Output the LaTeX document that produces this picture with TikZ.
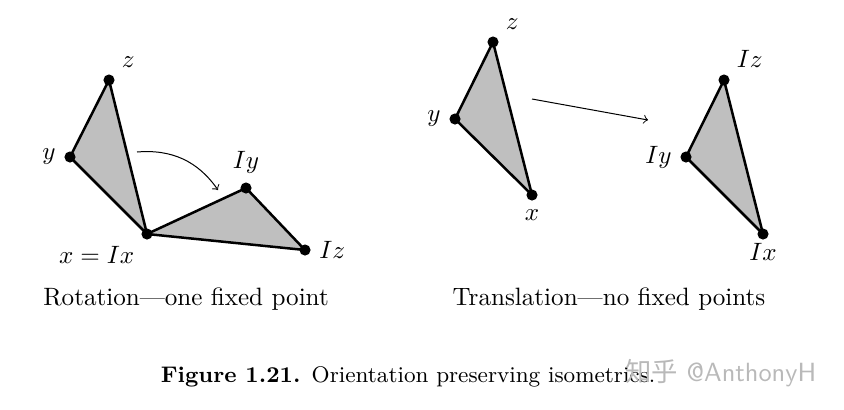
\documentclass[tikz,border=0pt]{standalone}
\usepackage{fontspec}
\newfontfamily\cjkfont{Noto Sans CJK SC}
\usetikzlibrary{backgrounds}

\begin{document}
\begin{tikzpicture}[x=0.014cm, y=-0.014cm,
  pt/.style={draw, circle, fill=black, minimum size=4pt, inner sep=0pt},
  tri/.style={fill=gray!50, draw=black, line width=1pt, line join=round}]
\useasboundingbox (0,0) rectangle (844,409);
% rotation
\node[pt, label=above right:{$z$}] (R1Z) at (109,80) {};
\node[pt, label=left:{$y$}] (R1Y) at (70,157) {};
\node[pt, label=below left:{$x=Ix$}] (R1X) at (147,234) {};
\node[pt, label=above:{$Iy$}] (R2Y) at (246,188) {};
\node[pt, label=right:{$Iz$}] (R2Z) at (305,250) {};
% translation
\node[pt, label=above right:{$z$}] (T1Z) at (493,42) {};
\node[pt, label=left:{$y$}] (T1Y) at (455,119) {};
\node[pt, label=below:{$x$}] (T1X) at (532,195) {};
\node[pt, label=above right:{$Iz$}] (T2Z) at (724,80) {};
\node[pt, label=left:{$Iy$}] (T2Y) at (686,157) {};
\node[pt, label={[yshift=2pt]below:{$Ix$}}] (T2X) at (763,234) {};
\begin{scope}[on background layer]
\filldraw[tri] (R1Z.center) -- (R1Y.center) -- (R1X.center) -- cycle;
\filldraw[tri] (R1X.center) -- (R2Y.center) -- (R2Z.center) -- cycle;
\filldraw[tri] (T1Z.center) -- (T1Y.center) -- (T1X.center) -- cycle;
\filldraw[tri] (T2Z.center) -- (T2Y.center) -- (T2X.center) -- cycle;
\end{scope}
\coordinate (RotA) at (137,152);
\coordinate (RotB) at (218,190);
\draw[->] (RotA) to[bend left=30] (RotB);
\coordinate (TraA) at (532,99);
\coordinate (TraB) at (648,120);
\draw[->] (TraA) -- (TraB);
\node (RotCap) at (186,299) {Rotation---one fixed point};
\node (TraCap) at (609,299) {Translation---no fixed points};
\node[anchor=west, font=\small] (FigCap) at (152,377) {\textbf{Figure 1.21.}\enspace Orientation preserving isometrics.};
\node[anchor=east, text=gray!55, font=\sffamily\fontsize{10.5}{12}\selectfont] (Mark) at (825,373) {{\cjkfont 知乎} @AnthonyH};
\end{tikzpicture}
\end{document}
